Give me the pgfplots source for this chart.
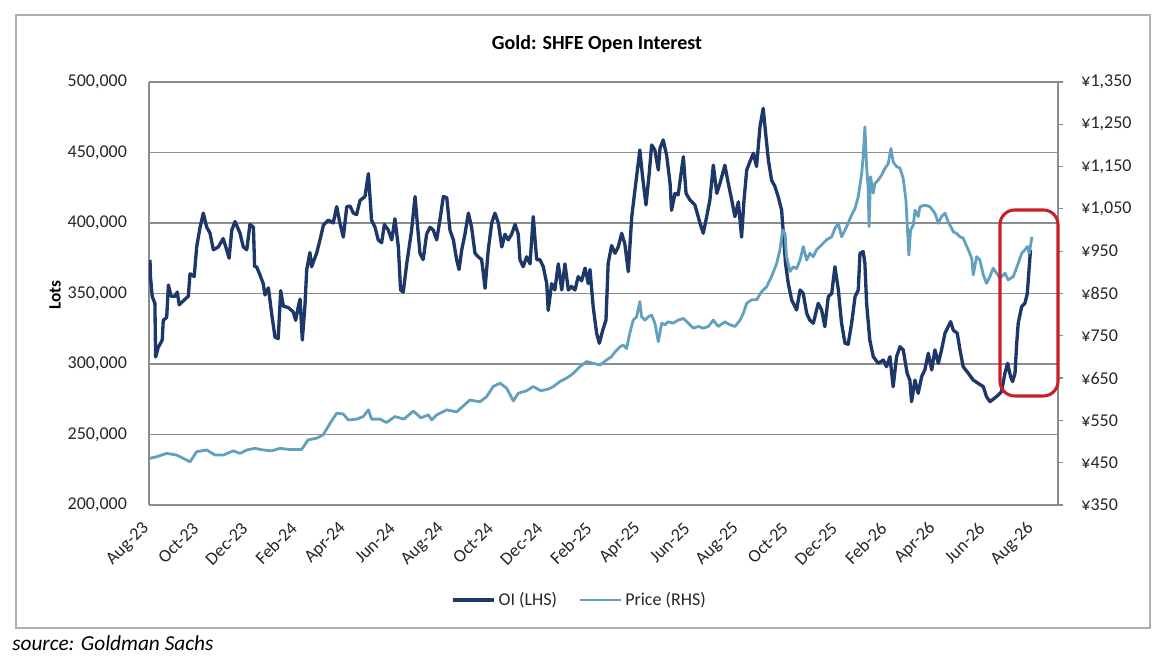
\documentclass[border=0pt]{standalone}
\usepackage{pgfplots}
\pgfplotsset{compat=1.18}
\usepackage{fontspec}
\setmainfont{Carlito}
\definecolor{oi}{RGB}{30,55,105}
\definecolor{pxc}{RGB}{98,160,192}
\definecolor{gridc}{RGB}{140,140,140}
\definecolor{boxc}{RGB}{175,175,175}
\definecolor{redc}{RGB}{200,30,40}

\pgfplotstableread{
m v
0.04 373800
0.06 362000
0.13 348000
0.24 343000
0.27 305000
0.38 312000
0.54 317000
0.58 331000
0.72 333000
0.79 356000
0.90 348000
1.06 348000
1.15 351000
1.23 342000
1.47 346000
1.60 348000
1.67 364000
1.84 362000
1.94 383000
2.08 397000
2.21 407000
2.35 397000
2.48 393000
2.62 381000
2.82 383000
3.02 389000
3.16 381000
3.26 375000
3.37 395000
3.50 401000
3.70 393000
3.84 383000
3.98 381000
4.11 399000
4.25 397000
4.30 369000
4.38 369000
4.52 363000
4.65 357000
4.72 349000
4.86 354000
4.99 336000
5.13 319000
5.26 318000
5.36 352000
5.47 341000
5.67 340000
5.87 337000
5.97 331000
6.08 341000
6.15 346000
6.24 317000
6.35 342000
6.42 367000
6.55 379000
6.62 369000
6.83 379000
6.96 388000
7.10 398600
7.30 402000
7.50 400000
7.64 411600
7.77 400000
7.91 390000
8.05 411600
8.18 412000
8.32 407000
8.45 406000
8.59 416000
8.79 418700
8.93 435000
9.06 402000
9.20 397000
9.33 388000
9.47 386000
9.58 399000
9.74 395000
9.88 388000
10.01 403000
10.15 383000
10.24 352500
10.35 351000
10.49 371000
10.69 395000
10.83 418700
10.92 400000
11.03 378500
11.16 374000
11.30 392000
11.44 397000
11.57 395000
11.71 388000
11.84 402000
11.98 418700
12.12 418000
12.25 395000
12.39 388000
12.52 374000
12.62 367000
12.73 381000
12.86 392000
13.00 407000
13.13 397000
13.27 378500
13.40 376000
13.54 374000
13.68 353700
13.81 381000
13.95 400000
14.08 407000
14.22 400000
14.36 383000
14.49 392000
14.62 388000
14.76 392000
14.90 399000
15.03 392000
15.10 374000
15.23 369000
15.37 376000
15.51 371000
15.64 404500
15.78 374000
15.91 374000
16.05 369000
16.19 357000
16.25 338000
16.39 357000
16.52 352500
16.66 371000
16.80 352500
16.93 371000
17.07 352500
17.20 355000
17.34 352500
17.47 362000
17.61 359000
17.75 368000
17.88 357000
17.95 367000
18.08 340600
18.22 321800
18.33 314700
18.47 324000
18.60 331000
18.69 371400
18.83 384000
18.97 378500
19.10 383000
19.24 392700
19.37 385000
19.51 365500
19.65 404500
19.78 423400
19.98 451800
20.09 432800
20.23 412800
20.36 435000
20.46 455300
20.59 451800
20.73 437600
20.80 453000
20.93 458900
21.07 448000
21.21 428000
21.27 409000
21.41 421000
21.54 420000
21.64 432800
21.75 447000
21.86 421000
22.02 416300
22.22 412800
22.43 399800
22.56 392700
22.70 404500
22.83 416300
22.97 441000
23.11 421000
23.24 428000
23.44 441000
23.58 428000
23.72 416300
23.85 404500
23.99 415000
24.12 390000
24.22 416300
24.33 437600
24.46 443500
24.60 449400
24.73 440000
24.87 468300
25.00 481300
25.10 463600
25.21 444700
25.34 430500
25.48 425800
25.61 418700
25.75 409200
25.81 395000
25.91 371400
26.02 357200
26.16 345400
26.36 338300
26.50 352500
26.63 350000
26.77 336000
26.90 331000
27.04 328900
27.24 343000
27.38 338300
27.51 326500
27.65 347800
27.79 350000
27.92 369000
28.06 352500
28.19 328900
28.33 314700
28.46 314000
28.60 328900
28.74 347800
28.87 352500
28.94 378500
29.07 379700
29.14 371400
29.21 343000
29.34 317000
29.48 305200
29.68 300500
29.89 302800
30.02 298100
30.16 305200
30.29 283900
30.43 305200
30.57 312300
30.70 310000
30.86 293400
30.97 288600
31.04 273300
31.18 288600
31.31 279200
31.45 291000
31.58 295800
31.72 307600
31.86 295800
31.99 310000
32.13 300500
32.26 310000
32.40 321800
32.53 326500
32.63 330000
32.74 324000
32.90 321800
33.01 310000
33.14 298100
33.35 293400
33.55 288600
33.75 286300
33.96 283900
34.09 276800
34.23 273300
34.36 275000
34.57 278000
34.70 280400
34.84 293400
34.95 300500
35.07 291000
35.15 287500
35.25 293400
35.32 314700
35.38 328900
35.52 340600
35.65 343000
35.75 350000
35.83 369000
35.88 380900
}\oitable

\pgfplotstableread{
m p
0.00 460
0.31 464
0.72 472
1.13 468
1.40 460
1.67 452
1.94 476
2.35 480
2.69 468
3.02 468
3.43 478
3.70 472
3.98 480
4.31 484
4.65 480
4.99 478
5.33 484
5.74 481
6.21 481
6.48 504
6.83 508
7.09 516
7.37 543
7.64 567
7.91 565
8.11 551
8.45 553
8.72 559
8.93 575
9.06 553
9.40 553
9.67 545
10.01 559
10.38 553
10.76 572
11.07 556
11.37 563
11.51 551
11.71 563
12.12 575
12.52 570
12.79 584
13.06 598
13.47 594
13.74 606
14.01 630
14.29 638
14.56 626
14.83 596
15.03 614
15.37 620
15.64 630
15.95 620
16.25 624
16.46 630
16.73 642
17.00 650
17.27 661
17.54 677
17.81 689
18.08 685
18.36 681
18.63 693
18.83 701
18.97 712
19.17 724
19.30 728
19.44 720
19.57 756
19.71 787
19.85 795
19.98 831
20.05 795
20.19 787
20.32 795
20.46 799
20.59 780
20.73 736
20.87 780
21.00 776
21.13 783
21.34 780
21.54 787
21.75 791
21.95 780
22.15 768
22.36 772
22.56 768
22.77 772
22.97 787
23.17 772
23.44 783
23.65 776
23.85 772
24.06 787
24.19 803
24.33 827
24.53 835
24.73 835
24.93 854
25.14 866
25.34 890
25.55 921
25.68 953
25.79 1000
25.89 992
25.95 937
26.09 902
26.22 913
26.36 909
26.50 929
26.63 961
26.77 929
26.90 945
27.04 937
27.17 953
27.38 965
27.58 977
27.79 984
27.92 1004
28.06 1016
28.19 984
28.33 1000
28.46 1016
28.60 1036
28.74 1051
28.87 1079
29.01 1134
29.07 1173
29.14 1244
29.21 1150
29.27 1102
29.31 1008
29.37 1126
29.48 1087
29.55 1110
29.68 1118
29.82 1130
29.96 1146
30.09 1157
30.20 1193
30.29 1161
30.43 1150
30.57 1146
30.70 1122
30.81 1071
30.86 1016
30.93 941
31.00 1000
31.11 1012
31.18 1047
31.31 1032
31.38 1055
31.58 1059
31.79 1055
31.99 1040
32.13 1016
32.26 1032
32.40 1040
32.53 1020
32.74 996
32.87 992
33.01 984
33.14 981
33.35 953
33.49 933
33.55 894
33.69 937
33.82 929
33.96 894
34.09 874
34.23 890
34.36 910
34.50 898
34.64 886
34.84 898
34.97 882
35.18 890
35.38 921
35.52 945
35.65 953
35.75 961
35.83 945
35.94 984
}\pricetable

\begin{document}
\begin{tikzpicture}[x=0.75pt,y=0.75pt]
\path[use as bounding box] (0,0) rectangle (1158,659);
\draw[boxc, line width=1.1pt] (16,31) rectangle (1150,644);
\node[font=\fontsize{15}{18}\selectfont\bfseries] at (597,615) {Gold: SHFE Open Interest};
\node[font=\fontsize{13}{15}\selectfont\bfseries, rotate=90] at (55,364) {Lots};
\node[font=\fontsize{16}{19}\selectfont\itshape, anchor=west, inner sep=0pt] at (12,16) {source: Goldman Sachs};

\begin{axis}[
  at={(111.75pt,115.5pt)}, anchor=south west,
  scale only axis, width=681.75pt, height=317.25pt,
  xmin=0, xmax=37, ymin=200000, ymax=500000,
  xtick={0,2,...,36},
  xticklabels={Aug-23,Oct-23,Dec-23,Feb-24,Apr-24,Jun-24,Aug-24,Oct-24,Dec-24,Feb-25,Apr-25,Jun-25,Aug-25,Oct-25,Dec-25,Feb-26,Apr-26,Jun-26,Aug-26},
  ytick={200000,250000,300000,350000,400000,450000,500000},
  yticklabels={{200,000},{250,000},{300,000},{350,000},{400,000},{450,000},{500,000}},
  scaled y ticks=false,
  axis x line*=bottom, axis y line*=left,
  axis line style={gridc, line width=1.1pt},
  ymajorgrids, grid style={gridc, line width=1.1pt},
  major tick length=0pt,
  tick label style={font=\fontsize{13.5}{16}\selectfont, text=black!85},
  xticklabel style={anchor=east, xshift=0.5pt, yshift=-13pt, rotate=45},
  yticklabel style={xshift=-13pt},
]
\addplot[oi, line width=2.5pt, line join=round] table[x=m, y=v] {\oitable};
\end{axis}

\begin{axis}[
  at={(111.75pt,115.5pt)}, anchor=south west,
  scale only axis, width=681.75pt, height=317.25pt,
  xmin=0, xmax=37, ymin=350, ymax=1350,
  axis x line=none, axis y line*=right,
  ytick={350,450,550,650,750,850,950,1050,1150,1250,1350},
  yticklabels={{¥350},{¥450},{¥550},{¥650},{¥750},{¥850},{¥950},{¥1,050},{¥1,150},{¥1,250},{¥1,350}},
  axis line style={gridc, line width=1.1pt},
  tick align=outside, major tick length=4pt,
  tick style={gridc, line width=0.9pt},
  tick label style={font=\fontsize{13.5}{16}\selectfont, text=black!85},
  yticklabel style={xshift=10pt},
  legend style={at={(0.474,-0.2246)}, anchor=center, draw=none, fill=none,
    font=\fontsize{13.5}{16}\selectfont, text=black!85,
    /tikz/every even column/.append style={column sep=14pt}},
  legend columns=2,
  legend image code/.code={\draw[#1] (0pt,0pt) -- (31pt,0pt);},
]
\addlegendimage{oi, line width=2.5pt}
\addlegendentry{OI (LHS)}
\addplot[pxc, line width=2.1pt, line join=round] table[x=m, y=p] {\pricetable};
\addlegendentry{Price (RHS)}
\end{axis}

\draw[redc, line width=2.3pt, rounded corners=11pt] (1000,263) rectangle (1058,449);
\end{tikzpicture}
\end{document}
